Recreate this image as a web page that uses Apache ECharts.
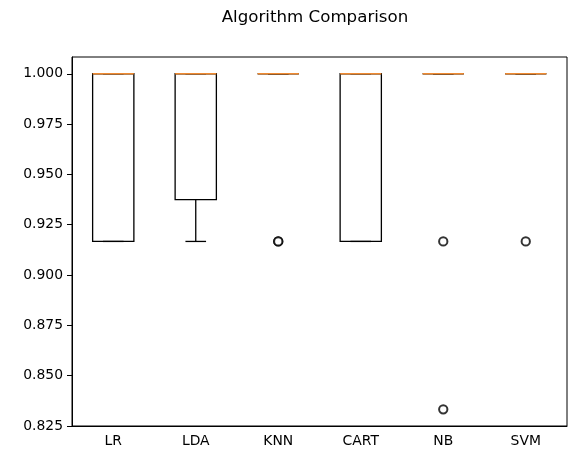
<!DOCTYPE html>
<html>
<head>
<meta charset="utf-8">
<script src="https://cdn.jsdelivr.net/npm/echarts@6/dist/echarts.min.js"></script>
<style>html,body{margin:0;padding:0;background:#fff}#c{width:585px;height:459px}</style>
</head>
<body>
<div id="c"></div>
<script>
const categories = ['LR', 'LDA', 'KNN', 'CART', 'NB', 'SVM'];
const whiskerLow = [0.9167, 0.9167, 1.0, 0.9167, 1.0, 1.0];
const q1 = [0.9167, 0.9375, 1.0, 0.9167, 1.0, 1.0];
const medians = [1.0, 1.0, 1.0, 1.0, 1.0, 1.0];
const q3 = [1.0, 1.0, 1.0, 1.0, 1.0, 1.0];
const whiskerHigh = [1.0, 1.0, 1.0, 1.0, 1.0, 1.0];
const outliers = [[2, 0.9167], [2, 0.9167], [4, 0.9167], [4, 0.8333], [5, 0.9167]];
const yTicks = [0.825, 0.85, 0.875, 0.9, 0.925, 0.95, 0.975, 1.0];

const boxData = categories.map((c, i) => [i, whiskerLow[i], q1[i], medians[i], q3[i], whiskerHigh[i]]);

const chart = echarts.init(document.getElementById('c'), null, { renderer: 'canvas' });
const LW = 1.3;
chart.setOption({
  animation: false,
  backgroundColor: '#fff',
  textStyle: { fontFamily: 'DejaVu Sans' },
  title: {
    text: 'Algorithm Comparison',
    left: 310, top: 4, textAlign: 'center',
    textStyle: { fontFamily: 'DejaVu Sans', fontSize: 16.67, fontWeight: 'normal', color: '#000' }
  },
  grid: { left: 72, right: 18, top: 57, bottom: 33, show: true, borderColor: '#000', borderWidth: 1, backgroundColor: 'transparent' },
  xAxis: {
    type: 'category', data: categories, boundaryGap: true,
    axisLine: { lineStyle: { color: '#000', width: 1 } },
    axisTick: { alignWithLabel: true, length: 5, lineStyle: { color: '#000', width: 1 } },
    axisLabel: { color: '#000', fontSize: 13.9, margin: 8, fontFamily: 'DejaVu Sans' },
    splitLine: { show: false }
  },
  yAxis: {
    type: 'value', min: 0.825, max: 1.008333, interval: 0.025,
    axisLine: { show: true, lineStyle: { color: '#000', width: 1 } },
    axisTick: { show: true, length: 5, customValues: yTicks, lineStyle: { color: '#000', width: 1 } },
    axisLabel: { color: '#000', fontSize: 13.9, margin: 9, fontFamily: 'DejaVu Sans', customValues: yTicks,
      formatter: v => Number(v).toFixed(3) },
    splitLine: { show: false }
  },
  series: [
    {
      type: 'custom',
      data: boxData,
      encode: { x: 0, y: [1, 2, 3, 4, 5] },
      renderItem: function (params, api) {
        const idx = api.value(0);
        const band = api.size([1, 0])[0];
        const bw = band * 0.5, cw = band * 0.25;
        const pLow = api.coord([idx, api.value(1)]);
        const pQ1 = api.coord([idx, api.value(2)]);
        const pMed = api.coord([idx, api.value(3)]);
        const pQ3 = api.coord([idx, api.value(4)]);
        const pHigh = api.coord([idx, api.value(5)]);
        const x = pQ1[0];
        const st = { stroke: '#000', lineWidth: LW, fill: null };
        return {
          type: 'group',
          children: [
            { type: 'line', shape: { x1: x, y1: pQ1[1], x2: x, y2: pLow[1] }, style: st },
            { type: 'line', shape: { x1: x, y1: pQ3[1], x2: x, y2: pHigh[1] }, style: st },
            { type: 'line', shape: { x1: x - cw / 2, y1: pLow[1], x2: x + cw / 2, y2: pLow[1] }, style: st },
            { type: 'line', shape: { x1: x - cw / 2, y1: pHigh[1], x2: x + cw / 2, y2: pHigh[1] }, style: st },
            { type: 'rect', shape: { x: x - bw / 2, y: pQ3[1], width: bw, height: pQ1[1] - pQ3[1] }, style: { stroke: '#000', lineWidth: LW, fill: 'none' } },
            { type: 'line', shape: { x1: x - bw / 2, y1: pMed[1], x2: x + bw / 2, y2: pMed[1] }, style: { stroke: '#f08a30', lineWidth: 1.6, opacity: 1 } }
          ]
        };
      }
    },
    {
      type: 'scatter',
      data: outliers,
      symbol: 'emptyCircle',
      symbolSize: 8.3,
      itemStyle: { color: '#000', borderColor: '#000', borderWidth: 1.2 },
      emphasis: { disabled: true }
    }
  ]
});
</script>
</body>
</html>
